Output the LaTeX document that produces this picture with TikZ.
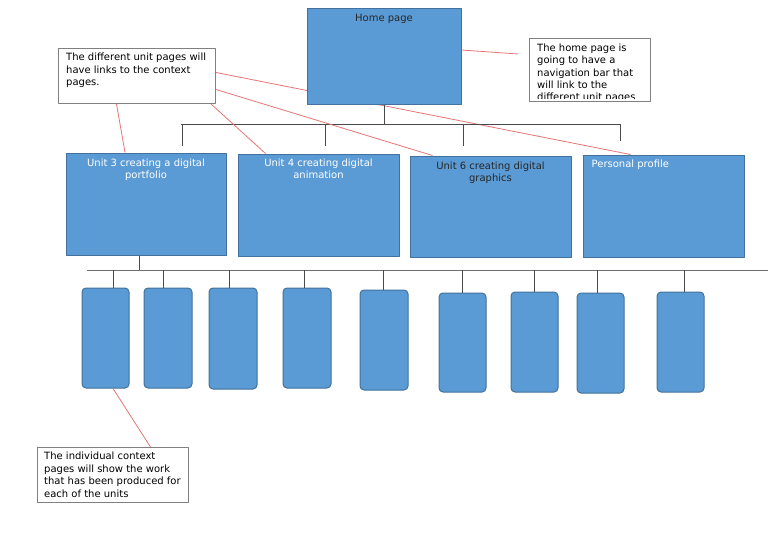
\documentclass[tikz,border=0pt]{standalone}
\usepackage{fontspec}
\setmainfont{DejaVu Sans}
\usepackage{tikz}
\usetikzlibrary{positioning,backgrounds}

\definecolor{boxblue}{HTML}{5B9BD5}
\definecolor{boxedge}{HTML}{41719C}
\definecolor{linkred}{HTML}{E87474}
\definecolor{treegray}{HTML}{4A4A4A}
\definecolor{notegray}{HTML}{808080}

\tikzset{
  pagebox/.style={draw=boxedge,fill=boxblue,line width=1pt,inner sep=0pt},
  ctxbox/.style={pagebox,rounded corners=4pt,minimum width=47pt,minimum height=100pt},
  notebox/.style={draw=notegray,fill=white,line width=1pt,inner sep=0pt,anchor=north west},
  boxtext/.style={inner sep=0pt,align=center,font=\fontsize{10}{11.8}\selectfont},
  notetext/.style={inner sep=0pt,align=left,anchor=north west,font=\fontsize{10}{12.4}\selectfont},
  link/.style={linkred,line width=0.8pt},
  tree/.style={treegray,line width=0.9pt}
}

\begin{document}
\begin{tikzpicture}[x=1pt,y=-1pt,line join=round]
  \useasboundingbox (0,0) rectangle (768,543);

  % page boxes
  \node[pagebox,minimum width=154pt,minimum height=95pt] (home) at (384,56.5) {};
  \node[pagebox,minimum width=160pt,minimum height=102pt] (u3) at (146,204) {};
  \node[pagebox,minimum width=161pt,minimum height=102pt] (u4) at (318.5,205) {};
  \node[pagebox,minimum width=161pt,minimum height=101pt] (u6) at (490.5,206.5) {};
  \node[pagebox,minimum width=161pt,minimum height=102pt] (pp) at (663.5,206) {};

  \node[boxtext,text=black!85,below=6pt of home.north] (home-t) {Home page};
  \node[boxtext,text=white,below=6pt of u3.north] (u3-t) {Unit 3 creating a digital\\portfolio};
  \node[boxtext,text=white,below=5pt of u4.north] (u4-t) {Unit 4 creating digital\\animation};
  \node[boxtext,text=black!85,below=6pt of u6.north] (u6-t) {Unit 6 creating digital\\graphics};
  \node[boxtext,text=white,anchor=north west] (pp-t) at ([xshift=9pt,yshift=-5pt]pp.north west) {Personal profile};

  % context pages
  \node[ctxbox] (c1) at (105.5,338) {};
  \node[ctxbox,minimum width=48pt] (c2) at (168,338) {};
  \node[ctxbox,minimum width=48pt,minimum height=101pt] (c3) at (233,338.5) {};
  \node[ctxbox,minimum width=48pt] (c4) at (307,338) {};
  \node[ctxbox,minimum width=48pt] (c5) at (384,340) {};
  \node[ctxbox,minimum height=99pt] (c6) at (462.5,342.5) {};
  \node[ctxbox] (c7) at (534.5,342) {};
  \node[ctxbox] (c8) at (600.5,343) {};
  \node[ctxbox] (c9) at (680.5,342) {};

  % tree lines
  \coordinate (hbarL) at (181,124);
  \coordinate (hbarR) at (621,124);
  \coordinate (lbarL) at (87,270);
  \coordinate (lbarR) at (768,270);
  \draw[tree] (home.south) -- (home.south |- hbarL);
  \draw[tree] (hbarL) -- (hbarR);
  \foreach \n/\dx/\gap in {u3/36/7,u4/6.5/8,u6/-27.5/10,pp/-43.5/14}
    \draw[tree] ([xshift=\dx pt]\n.north |- hbarL) -- ([xshift=\dx pt,yshift=\gap pt]\n.north);
  \draw[tree] ([xshift=-7pt]u3.south) -- ([xshift=-7pt]u3.south |- lbarL);
  \draw[tree,treegray!80] (lbarL) -- (lbarR);
  \foreach \n/\dx in {c1/7.5,c2/-5,c3/-4,c4/-3,c5/-1,c6/-0.5,c7/-0.5,c8/-3.5,c9/3.5}
    \draw[tree] ([xshift=\dx pt]\n.north |- lbarL) -- ([xshift=\dx pt]\n.north);

  % notes
  \node[notebox,minimum width=157pt,minimum height=55pt] (ln) at (58,48) {};
  \node[notetext] (ln-t) at ([xshift=8pt,yshift=-5pt]ln.north west)
    {The different unit pages will\\have links to the context\\pages.};
  \node[notebox,minimum width=121pt,minimum height=63pt] (hn) at (529,38) {};
  \begin{scope}
    \clip ([xshift=1pt,yshift=-1pt]hn.north west) rectangle ([xshift=-1pt,yshift=3.5pt]hn.south east);
    \node[notetext] (hn-t) at ([xshift=8pt,yshift=-5.5pt]hn.north west)
      {The home page is\\going to have a\\navigation bar that\\will link to the\\different unit pages};
  \end{scope}
  \node[notebox,minimum width=151pt,minimum height=55pt] (bn) at (37,447) {};
  \node[notetext] (bn-t) at ([xshift=7pt,yshift=-5pt]bn.north west)
    {The individual context\\pages will show the work\\that has been produced for\\each of the units};

  % red links
  \coordinate (hlink) at (518,54);
  \begin{scope}[on background layer]
    \draw[link] ([yshift=3.5pt]ln.east) -- ([xshift=-33pt]pp.north);
  \end{scope}
  \draw[link] ([yshift=-13.5pt]ln.east) -- ([xshift=23pt]u6.north west);
  \draw[link] ([xshift=-5pt]ln.south east) -- ([xshift=28pt]u4.north west);
  \draw[link] ([xshift=-20.5pt]ln.south) -- ([xshift=-21pt]u3.north);
  \draw[link] ([yshift=6.5pt]home.east) -- (hlink);
  \draw[link] ([xshift=7.5pt]c1.south) -- ([xshift=37.5pt]bn.north);
\end{tikzpicture}
\end{document}
